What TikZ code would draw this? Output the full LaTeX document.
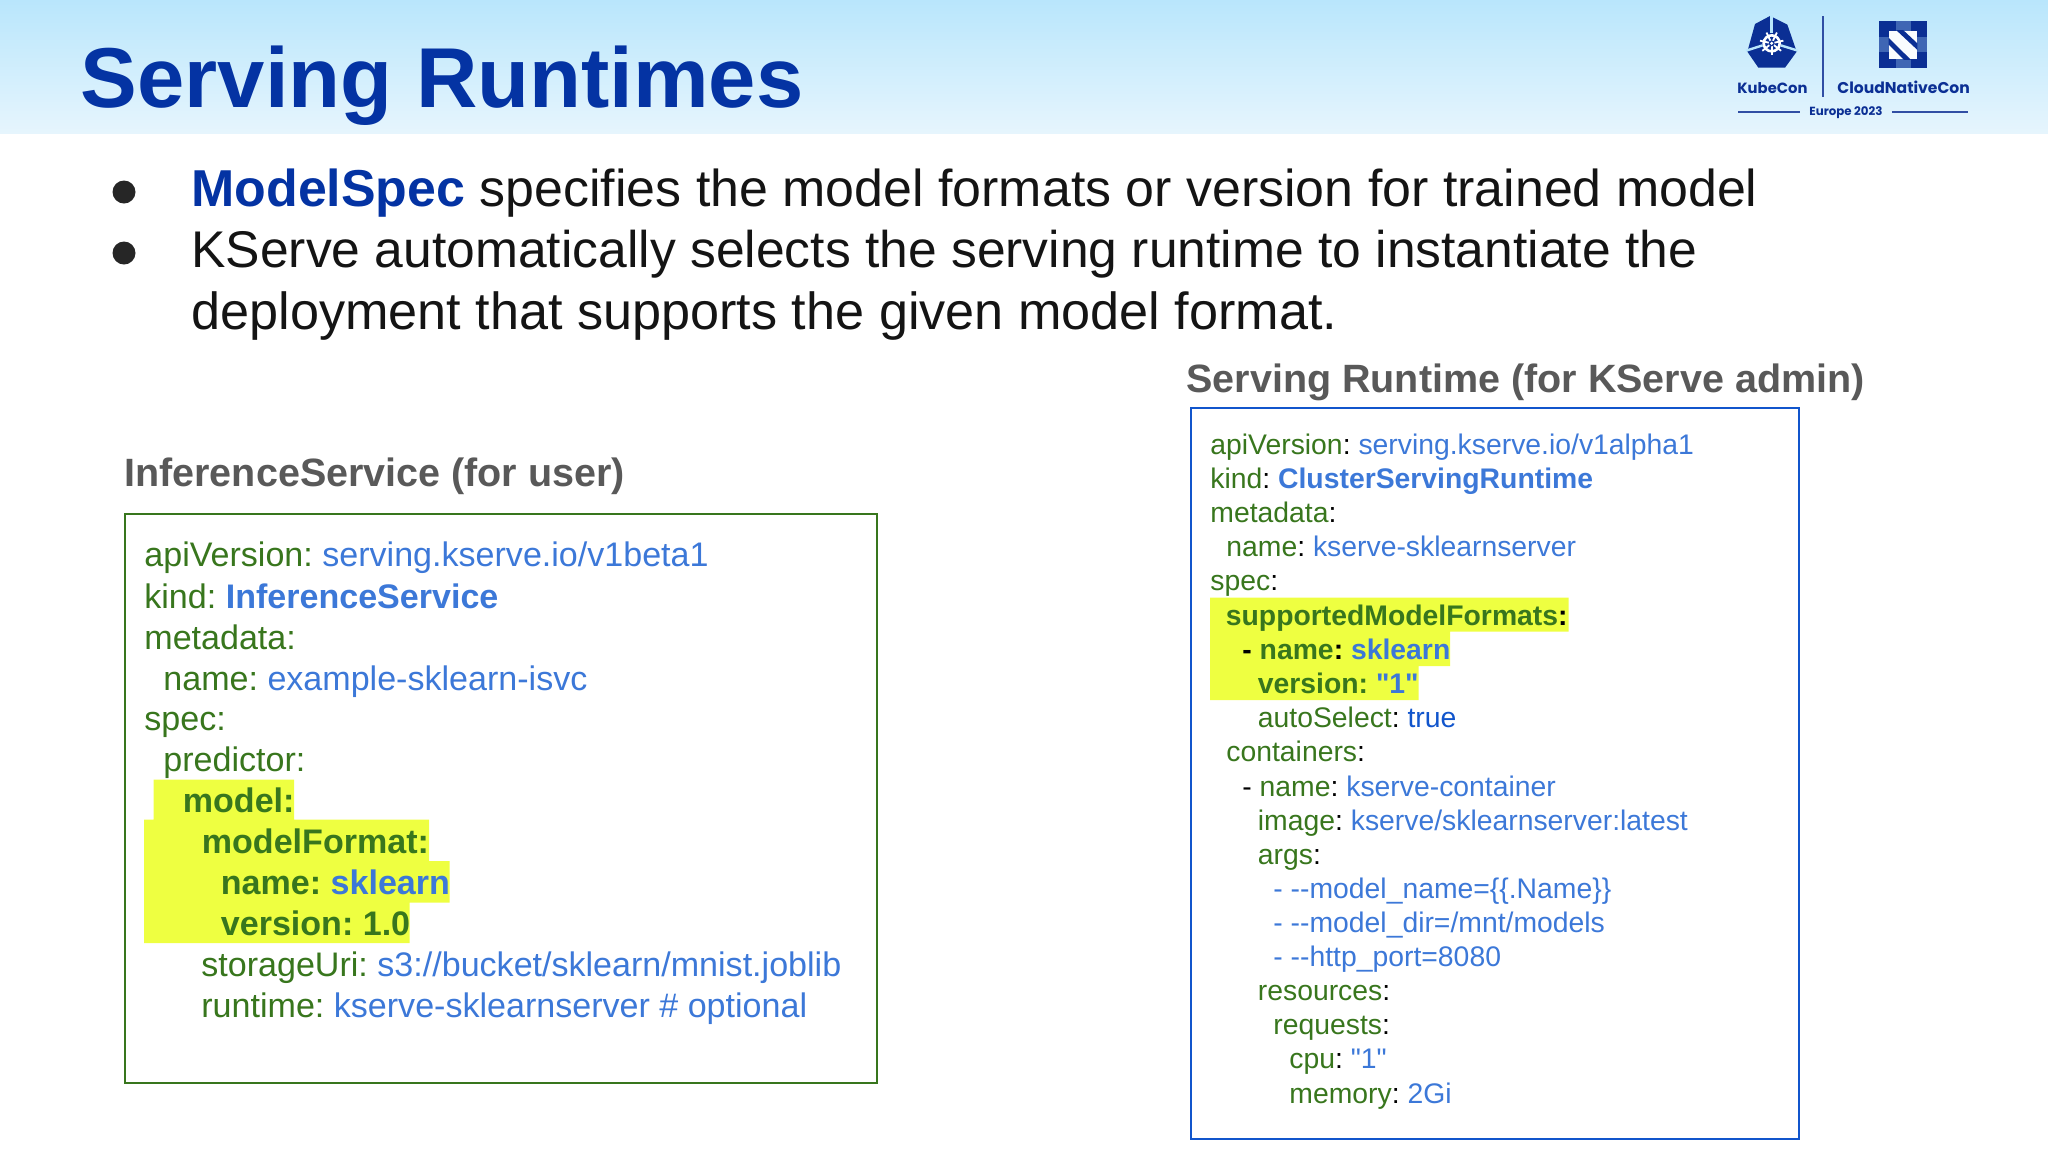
\documentclass[tikz,border=0pt]{standalone}
\usepackage{fontspec}
\usetikzlibrary{fit}
\setmainfont{Liberation Sans}[Ligatures=TeXOff]
\newfontfamily\logofont{Poppins}
\definecolor{headtop}{HTML}{B9E6FC}
\definecolor{headbot}{HTML}{E6F5FD}
\definecolor{navy}{HTML}{0433A3}
\definecolor{logonavy}{HTML}{0B2F94}
\definecolor{logomid}{HTML}{3F66B4}
\definecolor{keygreen}{HTML}{38761D}
\definecolor{valblue}{HTML}{3C78D8}
\definecolor{darkblue}{HTML}{1155CC}
\definecolor{marker}{HTML}{EEFF41}
\definecolor{capgrey}{HTML}{595959}
\newcommand{\vv}[1]{\textcolor{valblue}{#1}}
\newcommand{\bk}[1]{\textcolor{black}{#1}}
\tikzset{x=0.5pt,y=-0.5pt}
\tikzset{txt/.style={anchor=base west,inner sep=0pt,text=black!92}}
\tikzset{bul/.style={txt,font=\fontsize{#1}{30}\selectfont\frenchspacing}}
\tikzset{captxt/.style={txt,text=capgrey,font=\fontsize{19.75}{24}\selectfont\bfseries}}
\tikzset{isv/.style={txt,text=keygreen,font=\fontsize{17.03}{20}\selectfont\frenchspacing}}
\tikzset{srt/.style={txt,text=keygreen,font=\fontsize{14.17}{17}\selectfont\frenchspacing}}
\tikzset{dot/.style={circle,fill=black!85,minimum size=11.5pt,inner sep=0pt}}
\tikzset{codebox/.style={draw,line width=1pt,inner sep=0pt,fit=#1}}
\tikzset{logotxt/.style={anchor=base west,inner sep=0pt,text=logonavy}}
\begin{document}
\begin{tikzpicture}
\useasboundingbox (0,0) rectangle (2048,1152);
% header band
\fill[top color=headtop,bottom color=headbot] (0,0) rectangle (2048,133);
\node[txt,text=navy,font=\fontsize{42.5}{50}\selectfont\bfseries] (title) at (80.5,107) {Serving Runtimes};

% logo
\begin{scope}[shift={(1730,10)},scale=1/3]
\fill[logonavy] (120,18) -- (172,44) -- (200,125) -- (165,173) -- (85,173) -- (52,125) -- (75,42) -- cycle;
\draw[headtop,line width=1.2pt] (124,15) -- (124,70);
\draw[headtop,line width=1.2pt] (48,122) -- (98,106);
\draw[headtop,line width=1.2pt] (204,122) -- (152,106);
\draw[white,line width=1.3pt] (125,100) circle (24);
\foreach \a in {90,141.4,...,400} {
  \draw[white,line width=0.9pt] (125,100) -- ++(\a:36);
}
\fill[logonavy] (125,100) circle (9);
\fill[white] (125,100) circle (5);
\end{scope}
\draw[logonavy!85,line width=1pt] (1823,16) -- (1823,97);
\begin{scope}[shift={(1730,10)},scale=1/3]
\fill[logonavy] (448,34) rectangle (590,175);
\fill[logomid] (497,34) rectangle (542,175);
\fill[logomid] (448,82) rectangle (590,127);
\fill[white!75!headbot] (476,62) rectangle (562,147);
\clip (476,62) rectangle (562,147);
\draw[logonavy,line width=2.4pt] (498,50) -- (575,122);
\draw[logonavy,line width=2.4pt] (462,80) -- (538,155);
\end{scope}
\node[logotxt,font=\fontsize{7.4}{10}\logofont\bfseries] (kube) at (1737,93) {KubeCon};
\node[logotxt,font=\fontsize{7.8}{10}\logofont\bfseries] (cncf) at (1837,93) {CloudNativeCon};
\node[logotxt,font=\fontsize{5.9}{8}\logofont\bfseries] (euro) at (1809,115) {Europe 2023};
\coordinate (ll) at (1738,112);
\coordinate (lr) at (1968,112);
\draw[logonavy!85,line width=0.6pt] (ll) -- ([xshift=-4.5pt]euro.west |- ll);
\draw[logonavy!85,line width=0.6pt] ([xshift=4.5pt]euro.east |- lr) -- (lr);

% bullets
\node[dot] (d1) at (124,192) {};
\node[dot] (d2) at (124,253) {};
\node[bul=25.95] (b1) at (191,206) {\textcolor{navy}{\textbf{ModelSpec}} specifies the model formats or version for trained model};
\node[bul=25.8] (b2) at (191,267.5) {KServe automatically selects the serving runtime to instantiate the};
\node[bul=26.1] (b3) at (191,329) {deployment that supports the given model format.};

% left box
\node[captxt] (capl) at (124,486) {InferenceService (for user)};
\coordinate (lb1) at (124.5,514);
\coordinate (lb2) at (877,1083);
\node[codebox={(lb1) (lb2)},draw=keygreen] (lbox) {};
\fill[marker] (153.5,779.5) -- (294,779.5) -- (294,819.5) -- (429,819.5) -- (429,861) -- (449.5,861) -- (449.5,902.5) -- (409.5,902.5) -- (409.5,943) -- (144,943) -- (144,819.5) -- (153.5,819.5) -- cycle;
\node[isv] (i1) at (144,566.5) {apiVersion: \vv{serving.kserve.io/v1beta1}};
\node[isv] (i2) at (144,608) {kind: \vv{\textbf{InferenceService}}};
\node[isv] (i3) at (144,649) {metadata:};
\node[isv] (i4) at (163,690) {name: \vv{example-sklearn-isvc}};
\node[isv] (i5) at (144,730.5) {spec:};
\node[isv] (i6) at (163,771) {predictor:};
\node[isv] (i7) at (182.5,812) {\textbf{model:}};
\node[isv] (i8) at (201.5,853) {\textbf{modelFormat:}};
\node[isv] (i9) at (220.5,894) {\textbf{name: \vv{sklearn}}};
\node[isv] (i10) at (220.5,935) {\textbf{version: 1.0}};
\node[isv] (i11) at (201,976) {storageUri: \vv{s3://bucket/sklearn/mnist.joblib}};
\node[isv] (i12) at (201,1017) {runtime: \vv{kserve-sklearnserver \# optional}};

% right box
\node[captxt] (capr) at (1186,392.5) {Serving Runtime (for KServe admin)};
\coordinate (rb1) at (1190.5,408);
\coordinate (rb2) at (1799,1139);
\node[codebox={(rb1) (rb2)},draw=darkblue] (rbox) {};
\fill[marker] (1210,597.5) -- (1568.5,597.5) -- (1568.5,631.5) -- (1450,631.5) -- (1450,666) -- (1418.5,666) -- (1418.5,700) -- (1210,700) -- cycle;
\node[srt] (s1) at (1210,454) {apiVersion\bk{:} \vv{serving.kserve.io/v1alpha1}};
\node[srt] (s2) at (1210,488.2) {kind\bk{:} \vv{\textbf{ClusterServingRuntime}}};
\node[srt] (s3) at (1210,522.3) {metadata\bk{:}};
\node[srt] (s4) at (1226,556.5) {name\bk{:} \vv{kserve-sklearnserver}};
\node[srt] (s5) at (1210,590.6) {spec\bk{:}};
\node[srt] (s6) at (1225.5,625) {\textbf{supportedModelFormats\bk{:}}};
\node[srt] (s7) at (1242,659.2) {\textbf{\bk{-} name\bk{:} \vv{sklearn}}};
\node[srt] (s8) at (1257.5,693.1) {\textbf{version: \vv{"1"}}};
\node[srt] (s9) at (1257.5,727.2) {autoSelect\bk{:} \textcolor{darkblue}{true}};
\node[srt] (s10) at (1226,761.4) {containers\bk{:}};
\node[srt] (s11) at (1242,796) {\bk{-} name\bk{:} \vv{kserve-container}};
\node[srt] (s12) at (1257.5,830) {image\bk{:} \vv{kserve/sklearnserver:latest}};
\node[srt] (s13) at (1257.5,864.2) {args\bk{:}};
\node[srt] (s14) at (1273,898) {\vv{- --model\_name=\{\{.Name\}\}}};
\node[srt] (s15) at (1273,932.1) {\vv{- --model\_dir=/mnt/models}};
\node[srt] (s16) at (1273,966.3) {\vv{- --http\_port=8080}};
\node[srt] (s17) at (1257.5,1000.4) {resources\bk{:}};
\node[srt] (s18) at (1273,1034.6) {requests\bk{:}};
\node[srt] (s19) at (1289,1068.7) {cpu\bk{:} \vv{"1"}};
\node[srt] (s20) at (1289,1103.2) {memory\bk{:} \vv{2Gi}};
\end{tikzpicture}
\end{document}
